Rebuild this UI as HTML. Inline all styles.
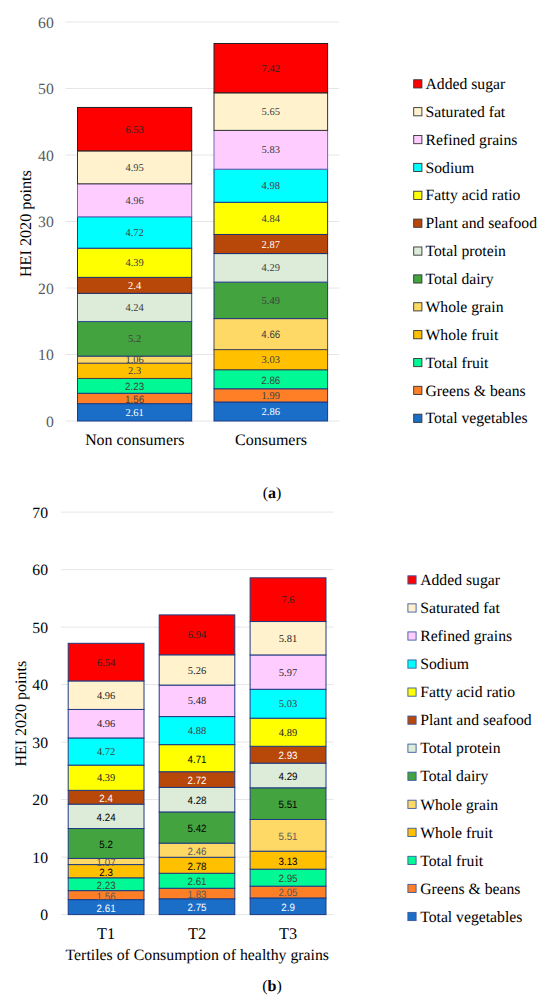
<!DOCTYPE html><html><head><meta charset="utf-8"><style>html,body{margin:0;padding:0;background:#fff;width:550px;height:999px;overflow:hidden}svg{display:block;text-rendering:geometricPrecision}</style></head><body>
<svg width="550" height="999" viewBox="0 0 550 999">
<rect width="550" height="999" fill="#fff"/>
<line x1="65.5" y1="421.00" x2="339.3" y2="421.00" stroke="#E6E6E6" stroke-width="1"/>
<text x="53.8" y="426.60" text-anchor="end" font-family="Liberation Serif" font-size="15.7" fill="#595959">0</text>
<line x1="65.5" y1="354.50" x2="339.3" y2="354.50" stroke="#E6E6E6" stroke-width="1"/>
<text x="53.8" y="360.10" text-anchor="end" font-family="Liberation Serif" font-size="15.7" fill="#595959">10</text>
<line x1="65.5" y1="288.00" x2="339.3" y2="288.00" stroke="#E6E6E6" stroke-width="1"/>
<text x="53.8" y="293.60" text-anchor="end" font-family="Liberation Serif" font-size="15.7" fill="#595959">20</text>
<line x1="65.5" y1="221.50" x2="339.3" y2="221.50" stroke="#E6E6E6" stroke-width="1"/>
<text x="53.8" y="227.10" text-anchor="end" font-family="Liberation Serif" font-size="15.7" fill="#595959">30</text>
<line x1="65.5" y1="155.00" x2="339.3" y2="155.00" stroke="#E6E6E6" stroke-width="1"/>
<text x="53.8" y="160.60" text-anchor="end" font-family="Liberation Serif" font-size="15.7" fill="#595959">40</text>
<line x1="65.5" y1="88.50" x2="339.3" y2="88.50" stroke="#E6E6E6" stroke-width="1"/>
<text x="53.8" y="94.10" text-anchor="end" font-family="Liberation Serif" font-size="15.7" fill="#595959">50</text>
<line x1="65.5" y1="22.00" x2="339.3" y2="22.00" stroke="#E6E6E6" stroke-width="1"/>
<text x="53.8" y="27.60" text-anchor="end" font-family="Liberation Serif" font-size="15.7" fill="#595959">60</text>
<rect x="77.5" y="403.64" width="114.2" height="17.36" fill="#1A6EC8" stroke="#1a3a8a" stroke-width="1"/>
<rect x="77.5" y="393.27" width="114.2" height="10.37" fill="#FF7F27" stroke="#1f3a80" stroke-width="1"/>
<rect x="77.5" y="378.44" width="114.2" height="14.83" fill="#00F994" stroke="#1f3a80" stroke-width="1"/>
<rect x="77.5" y="363.14" width="114.2" height="15.30" fill="#FFC000" stroke="#4a4040" stroke-width="1"/>
<rect x="77.5" y="356.10" width="114.2" height="7.05" fill="#FFD966" stroke="#4a4a5a" stroke-width="1"/>
<rect x="77.5" y="321.52" width="114.2" height="34.58" fill="#43A33F" stroke="#1f3a80" stroke-width="1"/>
<rect x="77.5" y="293.32" width="114.2" height="28.20" fill="#DDEBD9" stroke="#2f4f90" stroke-width="1"/>
<rect x="77.5" y="277.36" width="114.2" height="15.96" fill="#B8470A" stroke="#1f2f6a" stroke-width="1"/>
<rect x="77.5" y="248.17" width="114.2" height="29.19" fill="#FFFF00" stroke="#1f2f6a" stroke-width="1"/>
<rect x="77.5" y="216.78" width="114.2" height="31.39" fill="#00FFFF" stroke="#1f3a80" stroke-width="1"/>
<rect x="77.5" y="183.79" width="114.2" height="32.98" fill="#FFCCFF" stroke="#6a6ab8" stroke-width="1"/>
<rect x="77.5" y="150.88" width="114.2" height="32.92" fill="#FFF2CC" stroke="#333" stroke-width="1"/>
<rect x="77.5" y="107.45" width="114.2" height="43.42" fill="#FF0000" stroke="#222" stroke-width="1"/>
<text x="134.60" y="415.92" text-anchor="middle" font-family="Liberation Serif" font-size="10.5" fill="#fff">2.61</text>
<text transform="translate(134.60,402.86) scale(0.92,1)" text-anchor="middle" font-family="Liberation Sans" font-size="10.6" fill="#404040">1.56</text>
<text transform="translate(134.60,390.25) scale(0.92,1)" text-anchor="middle" font-family="Liberation Sans" font-size="10.6" fill="#404040">2.23</text>
<text x="134.60" y="374.39" text-anchor="middle" font-family="Liberation Serif" font-size="10.5" fill="#404040">2.3</text>
<text x="134.60" y="363.22" text-anchor="middle" font-family="Liberation Serif" font-size="10.5" fill="#404040">1.06</text>
<text x="134.60" y="342.41" text-anchor="middle" font-family="Liberation Serif" font-size="10.5" fill="#404040">5.2</text>
<text x="134.60" y="311.02" text-anchor="middle" font-family="Liberation Serif" font-size="10.5" fill="#404040">4.24</text>
<text x="134.60" y="288.94" text-anchor="middle" font-family="Liberation Serif" font-size="10.5" fill="#fff">2.4</text>
<text x="134.60" y="266.36" text-anchor="middle" font-family="Liberation Serif" font-size="10.5" fill="#404040">4.39</text>
<text x="134.60" y="236.07" text-anchor="middle" font-family="Liberation Serif" font-size="10.5" fill="#404040">4.72</text>
<text x="134.60" y="203.89" text-anchor="middle" font-family="Liberation Serif" font-size="10.5" fill="#404040">4.96</text>
<text x="134.60" y="170.94" text-anchor="middle" font-family="Liberation Serif" font-size="10.5" fill="#404040">4.95</text>
<text x="134.60" y="132.76" text-anchor="middle" font-family="Liberation Serif" font-size="10.5" fill="#262626">6.53</text>
<rect x="214" y="401.98" width="113.6" height="19.02" fill="#1A6EC8" stroke="#1a3a8a" stroke-width="1"/>
<rect x="214" y="388.75" width="113.6" height="13.23" fill="#FF7F27" stroke="#1f3a80" stroke-width="1"/>
<rect x="214" y="369.73" width="113.6" height="19.02" fill="#00F994" stroke="#1f3a80" stroke-width="1"/>
<rect x="214" y="349.58" width="113.6" height="20.15" fill="#FFC000" stroke="#4a4040" stroke-width="1"/>
<rect x="214" y="318.59" width="113.6" height="30.99" fill="#FFD966" stroke="#4a4a5a" stroke-width="1"/>
<rect x="214" y="282.08" width="113.6" height="36.51" fill="#43A33F" stroke="#1f3a80" stroke-width="1"/>
<rect x="214" y="253.55" width="113.6" height="28.53" fill="#DDEBD9" stroke="#2f4f90" stroke-width="1"/>
<rect x="214" y="234.47" width="113.6" height="19.09" fill="#B8470A" stroke="#1f2f6a" stroke-width="1"/>
<rect x="214" y="202.28" width="113.6" height="32.19" fill="#FFFF00" stroke="#1f2f6a" stroke-width="1"/>
<rect x="214" y="169.16" width="113.6" height="33.12" fill="#00FFFF" stroke="#1f3a80" stroke-width="1"/>
<rect x="214" y="130.39" width="113.6" height="38.77" fill="#FFCCFF" stroke="#6a6ab8" stroke-width="1"/>
<rect x="214" y="92.82" width="113.6" height="37.57" fill="#FFF2CC" stroke="#333" stroke-width="1"/>
<rect x="214" y="43.48" width="113.6" height="49.34" fill="#FF0000" stroke="#222" stroke-width="1"/>
<text x="270.80" y="415.09" text-anchor="middle" font-family="Liberation Serif" font-size="10.5" fill="#fff">2.86</text>
<text x="270.80" y="398.96" text-anchor="middle" font-family="Liberation Serif" font-size="10.5" fill="#404040">1.99</text>
<text transform="translate(270.80,383.64) scale(0.92,1)" text-anchor="middle" font-family="Liberation Sans" font-size="10.6" fill="#404040">2.86</text>
<text x="270.80" y="363.25" text-anchor="middle" font-family="Liberation Serif" font-size="10.5" fill="#404040">3.03</text>
<text transform="translate(270.80,338.48) scale(0.92,1)" text-anchor="middle" font-family="Liberation Sans" font-size="10.6" fill="#404040">4.66</text>
<text x="270.80" y="303.94" text-anchor="middle" font-family="Liberation Serif" font-size="10.5" fill="#404040">5.49</text>
<text x="270.80" y="271.42" text-anchor="middle" font-family="Liberation Serif" font-size="10.5" fill="#404040">4.29</text>
<text x="270.80" y="247.61" text-anchor="middle" font-family="Liberation Serif" font-size="10.5" fill="#fff">2.87</text>
<text x="270.80" y="221.97" text-anchor="middle" font-family="Liberation Serif" font-size="10.5" fill="#404040">4.84</text>
<text x="270.80" y="189.32" text-anchor="middle" font-family="Liberation Serif" font-size="10.5" fill="#404040">4.98</text>
<text x="270.80" y="153.38" text-anchor="middle" font-family="Liberation Serif" font-size="10.5" fill="#404040">5.83</text>
<text x="270.80" y="115.21" text-anchor="middle" font-family="Liberation Serif" font-size="10.5" fill="#404040">5.65</text>
<text x="270.80" y="71.75" text-anchor="middle" font-family="Liberation Serif" font-size="10.5" fill="#262626">7.42</text>
<text x="134.8" y="444.7" text-anchor="middle" font-family="Liberation Serif" font-size="15.9" fill="#000">Non consumers</text>
<text x="271" y="444.7" text-anchor="middle" font-family="Liberation Serif" font-size="16" fill="#000">Consumers</text>
<text transform="translate(31,223.6) rotate(-90)" text-anchor="middle" font-family="Liberation Serif" font-size="16.2" fill="#000">HEI 2020 points</text>
<rect x="413.7" y="79.75" width="8.2" height="8.2" fill="#FF0000" stroke="#333" stroke-width="0.9"/>
<text x="425.5" y="88.95" font-family="Liberation Serif" font-size="15.7" fill="#000">Added sugar</text>
<rect x="413.7" y="107.62" width="8.2" height="8.2" fill="#FFF2CC" stroke="#333" stroke-width="0.9"/>
<text x="425.5" y="116.82" font-family="Liberation Serif" font-size="15.7" fill="#000">Saturated fat</text>
<rect x="413.7" y="135.49" width="8.2" height="8.2" fill="#FFCCFF" stroke="#333" stroke-width="0.9"/>
<text x="425.5" y="144.69" font-family="Liberation Serif" font-size="15.7" fill="#000">Refined grains</text>
<rect x="413.7" y="163.36" width="8.2" height="8.2" fill="#00FFFF" stroke="#333" stroke-width="0.9"/>
<text x="425.5" y="172.56" font-family="Liberation Serif" font-size="15.7" fill="#000">Sodium</text>
<rect x="413.7" y="191.23" width="8.2" height="8.2" fill="#FFFF00" stroke="#333" stroke-width="0.9"/>
<text x="425.5" y="200.43" font-family="Liberation Serif" font-size="15.7" fill="#000">Fatty acid ratio</text>
<rect x="413.7" y="219.10" width="8.2" height="8.2" fill="#B8470A" stroke="#333" stroke-width="0.9"/>
<text x="425.5" y="228.30" font-family="Liberation Serif" font-size="15.7" fill="#000">Plant and seafood</text>
<rect x="413.7" y="246.97" width="8.2" height="8.2" fill="#DDEBD9" stroke="#333" stroke-width="0.9"/>
<text x="425.5" y="256.17" font-family="Liberation Serif" font-size="15.7" fill="#000">Total protein</text>
<rect x="413.7" y="274.84" width="8.2" height="8.2" fill="#43A33F" stroke="#333" stroke-width="0.9"/>
<text x="425.5" y="284.04" font-family="Liberation Serif" font-size="15.7" fill="#000">Total dairy</text>
<rect x="413.7" y="302.71" width="8.2" height="8.2" fill="#FFD966" stroke="#333" stroke-width="0.9"/>
<text x="425.5" y="311.91" font-family="Liberation Serif" font-size="15.7" fill="#000">Whole grain</text>
<rect x="413.7" y="330.58" width="8.2" height="8.2" fill="#FFC000" stroke="#333" stroke-width="0.9"/>
<text x="425.5" y="339.78" font-family="Liberation Serif" font-size="15.7" fill="#000">Whole fruit</text>
<rect x="413.7" y="358.45" width="8.2" height="8.2" fill="#00F994" stroke="#333" stroke-width="0.9"/>
<text x="425.5" y="367.65" font-family="Liberation Serif" font-size="15.7" fill="#000">Total fruit</text>
<rect x="413.7" y="386.32" width="8.2" height="8.2" fill="#FF7F27" stroke="#333" stroke-width="0.9"/>
<text x="425.5" y="395.52" font-family="Liberation Serif" font-size="15.7" fill="#000">Greens &amp; beans</text>
<rect x="413.7" y="414.19" width="8.2" height="8.2" fill="#1A6EC8" stroke="#333" stroke-width="0.9"/>
<text x="425.5" y="423.39" font-family="Liberation Serif" font-size="15.7" fill="#000">Total vegetables</text>
<text x="272" y="498.4" text-anchor="middle" font-family="Liberation Serif" font-size="16" fill="#000">(<tspan font-weight="bold">a</tspan>)</text>
<line x1="61" y1="914.60" x2="333.6" y2="914.60" stroke="#E6E6E6" stroke-width="1"/>
<text x="48" y="920.20" text-anchor="end" font-family="Liberation Serif" font-size="15.7" fill="#000">0</text>
<line x1="61" y1="857.10" x2="333.6" y2="857.10" stroke="#E6E6E6" stroke-width="1"/>
<text x="48" y="862.70" text-anchor="end" font-family="Liberation Serif" font-size="15.7" fill="#000">10</text>
<line x1="61" y1="799.60" x2="333.6" y2="799.60" stroke="#E6E6E6" stroke-width="1"/>
<text x="48" y="805.20" text-anchor="end" font-family="Liberation Serif" font-size="15.7" fill="#000">20</text>
<line x1="61" y1="742.10" x2="333.6" y2="742.10" stroke="#E6E6E6" stroke-width="1"/>
<text x="48" y="747.70" text-anchor="end" font-family="Liberation Serif" font-size="15.7" fill="#000">30</text>
<line x1="61" y1="684.60" x2="333.6" y2="684.60" stroke="#E6E6E6" stroke-width="1"/>
<text x="48" y="690.20" text-anchor="end" font-family="Liberation Serif" font-size="15.7" fill="#000">40</text>
<line x1="61" y1="627.10" x2="333.6" y2="627.10" stroke="#E6E6E6" stroke-width="1"/>
<text x="48" y="632.70" text-anchor="end" font-family="Liberation Serif" font-size="15.7" fill="#000">50</text>
<line x1="61" y1="569.60" x2="333.6" y2="569.60" stroke="#E6E6E6" stroke-width="1"/>
<text x="48" y="575.20" text-anchor="end" font-family="Liberation Serif" font-size="15.7" fill="#000">60</text>
<line x1="61" y1="512.10" x2="333.6" y2="512.10" stroke="#E6E6E6" stroke-width="1"/>
<text x="48" y="517.70" text-anchor="end" font-family="Liberation Serif" font-size="15.7" fill="#000">70</text>
<rect x="68.2" y="899.59" width="75.8" height="15.01" fill="#1A6EC8" stroke="#1F3A80" stroke-width="1"/>
<rect x="68.2" y="890.62" width="75.8" height="8.97" fill="#FF7F27" stroke="#1F3A80" stroke-width="1"/>
<rect x="68.2" y="877.80" width="75.8" height="12.82" fill="#00F994" stroke="#1F3A80" stroke-width="1"/>
<rect x="68.2" y="864.58" width="75.8" height="13.23" fill="#FFC000" stroke="#1F3A80" stroke-width="1"/>
<rect x="68.2" y="858.42" width="75.8" height="6.15" fill="#FFD966" stroke="#1F3A80" stroke-width="1"/>
<rect x="68.2" y="828.52" width="75.8" height="29.90" fill="#43A33F" stroke="#1F3A80" stroke-width="1"/>
<rect x="68.2" y="804.14" width="75.8" height="24.38" fill="#DDEBD9" stroke="#1F3A80" stroke-width="1"/>
<rect x="68.2" y="790.34" width="75.8" height="13.80" fill="#B8470A" stroke="#1F3A80" stroke-width="1"/>
<rect x="68.2" y="765.10" width="75.8" height="25.24" fill="#FFFF00" stroke="#1F3A80" stroke-width="1"/>
<rect x="68.2" y="737.96" width="75.8" height="27.14" fill="#00FFFF" stroke="#1F3A80" stroke-width="1"/>
<rect x="68.2" y="709.44" width="75.8" height="28.52" fill="#FFCCFF" stroke="#1F3A80" stroke-width="1"/>
<rect x="68.2" y="680.92" width="75.8" height="28.52" fill="#FFF2CC" stroke="#1F3A80" stroke-width="1"/>
<rect x="68.2" y="643.32" width="75.8" height="37.61" fill="#FF0000" stroke="#1F3A80" stroke-width="1"/>
<text transform="translate(106.10,911.50) scale(0.92,1)" text-anchor="middle" font-family="Liberation Sans" font-size="10.6" fill="#fff">2.61</text>
<text transform="translate(106.10,899.51) scale(0.92,1)" text-anchor="middle" font-family="Liberation Sans" font-size="10.6" fill="#595959">1.56</text>
<text transform="translate(106.10,888.61) scale(0.92,1)" text-anchor="middle" font-family="Liberation Sans" font-size="10.6" fill="#404040">2.23</text>
<text transform="translate(106.10,875.59) scale(0.92,1)" text-anchor="middle" font-family="Liberation Sans" font-size="10.6" fill="#000">2.3</text>
<text transform="translate(106.10,865.90) scale(0.92,1)" text-anchor="middle" font-family="Liberation Sans" font-size="10.6" fill="#595959">1.07</text>
<text transform="translate(106.10,847.87) scale(0.92,1)" text-anchor="middle" font-family="Liberation Sans" font-size="10.6" fill="#000">5.2</text>
<text transform="translate(106.10,820.73) scale(0.92,1)" text-anchor="middle" font-family="Liberation Sans" font-size="10.6" fill="#000">4.24</text>
<text transform="translate(106.10,801.64) scale(0.92,1)" text-anchor="middle" font-family="Liberation Sans" font-size="10.6" fill="#fff">2.4</text>
<text x="106.10" y="781.32" text-anchor="middle" font-family="Liberation Serif" font-size="10.5" fill="#262626">4.39</text>
<text x="106.10" y="755.13" text-anchor="middle" font-family="Liberation Serif" font-size="10.5" fill="#404040">4.72</text>
<text x="106.10" y="727.30" text-anchor="middle" font-family="Liberation Serif" font-size="10.5" fill="#262626">4.96</text>
<text x="106.10" y="698.78" text-anchor="middle" font-family="Liberation Serif" font-size="10.5" fill="#262626">4.96</text>
<text x="106.10" y="665.72" text-anchor="middle" font-family="Liberation Serif" font-size="10.5" fill="#262626">6.54</text>
<rect x="159.2" y="898.79" width="75.6" height="15.81" fill="#1A6EC8" stroke="#1F3A80" stroke-width="1"/>
<rect x="159.2" y="888.26" width="75.6" height="10.52" fill="#FF7F27" stroke="#1F3A80" stroke-width="1"/>
<rect x="159.2" y="873.26" width="75.6" height="15.01" fill="#00F994" stroke="#1F3A80" stroke-width="1"/>
<rect x="159.2" y="857.27" width="75.6" height="15.99" fill="#FFC000" stroke="#1F3A80" stroke-width="1"/>
<rect x="159.2" y="843.13" width="75.6" height="14.14" fill="#FFD966" stroke="#1F3A80" stroke-width="1"/>
<rect x="159.2" y="811.96" width="75.6" height="31.17" fill="#43A33F" stroke="#1F3A80" stroke-width="1"/>
<rect x="159.2" y="787.35" width="75.6" height="24.61" fill="#DDEBD9" stroke="#1F3A80" stroke-width="1"/>
<rect x="159.2" y="771.71" width="75.6" height="15.64" fill="#B8470A" stroke="#1F3A80" stroke-width="1"/>
<rect x="159.2" y="744.63" width="75.6" height="27.08" fill="#FFFF00" stroke="#1F3A80" stroke-width="1"/>
<rect x="159.2" y="716.57" width="75.6" height="28.06" fill="#00FFFF" stroke="#1F3A80" stroke-width="1"/>
<rect x="159.2" y="685.06" width="75.6" height="31.51" fill="#FFCCFF" stroke="#1F3A80" stroke-width="1"/>
<rect x="159.2" y="654.82" width="75.6" height="30.24" fill="#FFF2CC" stroke="#1F3A80" stroke-width="1"/>
<rect x="159.2" y="614.91" width="75.6" height="39.90" fill="#FF0000" stroke="#1F3A80" stroke-width="1"/>
<text transform="translate(197.00,911.09) scale(0.92,1)" text-anchor="middle" font-family="Liberation Sans" font-size="10.6" fill="#fff">2.75</text>
<text transform="translate(197.00,897.93) scale(0.92,1)" text-anchor="middle" font-family="Liberation Sans" font-size="10.6" fill="#595959">1.83</text>
<text transform="translate(197.00,885.16) scale(0.92,1)" text-anchor="middle" font-family="Liberation Sans" font-size="10.6" fill="#404040">2.61</text>
<text transform="translate(197.00,869.67) scale(0.92,1)" text-anchor="middle" font-family="Liberation Sans" font-size="10.6" fill="#000">2.78</text>
<text transform="translate(197.00,854.60) scale(0.92,1)" text-anchor="middle" font-family="Liberation Sans" font-size="10.6" fill="#595959">2.46</text>
<text transform="translate(197.00,831.95) scale(0.92,1)" text-anchor="middle" font-family="Liberation Sans" font-size="10.6" fill="#000">5.42</text>
<text transform="translate(197.00,804.06) scale(0.92,1)" text-anchor="middle" font-family="Liberation Sans" font-size="10.6" fill="#000">4.28</text>
<text transform="translate(197.00,783.93) scale(0.92,1)" text-anchor="middle" font-family="Liberation Sans" font-size="10.6" fill="#fff">2.72</text>
<text transform="translate(197.00,762.57) scale(0.92,1)" text-anchor="middle" font-family="Liberation Sans" font-size="10.6" fill="#000">4.71</text>
<text x="197.00" y="734.20" text-anchor="middle" font-family="Liberation Serif" font-size="10.5" fill="#404040">4.88</text>
<text x="197.00" y="704.41" text-anchor="middle" font-family="Liberation Serif" font-size="10.5" fill="#262626">5.48</text>
<text x="197.00" y="673.54" text-anchor="middle" font-family="Liberation Serif" font-size="10.5" fill="#262626">5.26</text>
<text x="197.00" y="638.46" text-anchor="middle" font-family="Liberation Serif" font-size="10.5" fill="#262626">6.94</text>
<rect x="250.1" y="897.93" width="75.9" height="16.67" fill="#1A6EC8" stroke="#1F3A80" stroke-width="1"/>
<rect x="250.1" y="886.14" width="75.9" height="11.79" fill="#FF7F27" stroke="#1F3A80" stroke-width="1"/>
<rect x="250.1" y="869.18" width="75.9" height="16.96" fill="#00F994" stroke="#1F3A80" stroke-width="1"/>
<rect x="250.1" y="851.18" width="75.9" height="18.00" fill="#FFC000" stroke="#1F3A80" stroke-width="1"/>
<rect x="250.1" y="819.50" width="75.9" height="31.68" fill="#FFD966" stroke="#1F3A80" stroke-width="1"/>
<rect x="250.1" y="787.81" width="75.9" height="31.68" fill="#43A33F" stroke="#1F3A80" stroke-width="1"/>
<rect x="250.1" y="763.14" width="75.9" height="24.67" fill="#DDEBD9" stroke="#1F3A80" stroke-width="1"/>
<rect x="250.1" y="746.30" width="75.9" height="16.85" fill="#B8470A" stroke="#1F3A80" stroke-width="1"/>
<rect x="250.1" y="718.18" width="75.9" height="28.12" fill="#FFFF00" stroke="#1F3A80" stroke-width="1"/>
<rect x="250.1" y="689.26" width="75.9" height="28.92" fill="#00FFFF" stroke="#1F3A80" stroke-width="1"/>
<rect x="250.1" y="654.93" width="75.9" height="34.33" fill="#FFCCFF" stroke="#1F3A80" stroke-width="1"/>
<rect x="250.1" y="621.52" width="75.9" height="33.41" fill="#FFF2CC" stroke="#1F3A80" stroke-width="1"/>
<rect x="250.1" y="577.82" width="75.9" height="43.70" fill="#FF0000" stroke="#1F3A80" stroke-width="1"/>
<text transform="translate(288.05,910.66) scale(0.92,1)" text-anchor="middle" font-family="Liberation Sans" font-size="10.6" fill="#fff">2.9</text>
<text transform="translate(288.05,896.43) scale(0.92,1)" text-anchor="middle" font-family="Liberation Sans" font-size="10.6" fill="#595959">2.05</text>
<text transform="translate(288.05,882.06) scale(0.92,1)" text-anchor="middle" font-family="Liberation Sans" font-size="10.6" fill="#404040">2.95</text>
<text transform="translate(288.05,864.58) scale(0.92,1)" text-anchor="middle" font-family="Liberation Sans" font-size="10.6" fill="#000">3.13</text>
<text transform="translate(288.05,839.74) scale(0.92,1)" text-anchor="middle" font-family="Liberation Sans" font-size="10.6" fill="#595959">5.51</text>
<text transform="translate(288.05,808.05) scale(0.92,1)" text-anchor="middle" font-family="Liberation Sans" font-size="10.6" fill="#000">5.51</text>
<text transform="translate(288.05,779.88) scale(0.92,1)" text-anchor="middle" font-family="Liberation Sans" font-size="10.6" fill="#000">4.29</text>
<text transform="translate(288.05,759.12) scale(0.92,1)" text-anchor="middle" font-family="Liberation Sans" font-size="10.6" fill="#fff">2.93</text>
<text x="288.05" y="735.84" text-anchor="middle" font-family="Liberation Serif" font-size="10.5" fill="#262626">4.89</text>
<text x="288.05" y="707.32" text-anchor="middle" font-family="Liberation Serif" font-size="10.5" fill="#404040">5.03</text>
<text x="288.05" y="675.69" text-anchor="middle" font-family="Liberation Serif" font-size="10.5" fill="#262626">5.97</text>
<text x="288.05" y="641.83" text-anchor="middle" font-family="Liberation Serif" font-size="10.5" fill="#262626">5.81</text>
<text x="288.05" y="603.27" text-anchor="middle" font-family="Liberation Serif" font-size="10.5" fill="#262626">7.6</text>
<text x="106.10" y="938.5" text-anchor="middle" font-family="Liberation Serif" font-size="16.3" fill="#000">T1</text>
<text x="197.00" y="938.5" text-anchor="middle" font-family="Liberation Serif" font-size="16.3" fill="#000">T2</text>
<text x="288.05" y="938.5" text-anchor="middle" font-family="Liberation Serif" font-size="16.3" fill="#000">T3</text>
<text x="197.3" y="960" text-anchor="middle" font-family="Liberation Serif" font-size="15.8" fill="#000">Tertiles of Consumption of healthy grains</text>
<text transform="translate(26,713.7) rotate(-90)" text-anchor="middle" font-family="Liberation Serif" font-size="16" fill="#000">HEI 2020 points</text>
<rect x="407.9" y="575.80" width="8.2" height="8.2" fill="#FF0000" stroke="#3a5aa0" stroke-width="0.9"/>
<text x="420.2" y="585.10" font-family="Liberation Serif" font-size="15.7" fill="#000">Added sugar</text>
<rect x="407.9" y="603.85" width="8.2" height="8.2" fill="#FFF2CC" stroke="#3a5aa0" stroke-width="0.9"/>
<text x="420.2" y="613.15" font-family="Liberation Serif" font-size="15.7" fill="#000">Saturated fat</text>
<rect x="407.9" y="631.90" width="8.2" height="8.2" fill="#FFCCFF" stroke="#3a5aa0" stroke-width="0.9"/>
<text x="420.2" y="641.20" font-family="Liberation Serif" font-size="15.7" fill="#000">Refined grains</text>
<rect x="407.9" y="659.95" width="8.2" height="8.2" fill="#00FFFF" stroke="#3a5aa0" stroke-width="0.9"/>
<text x="420.2" y="669.25" font-family="Liberation Serif" font-size="15.7" fill="#000">Sodium</text>
<rect x="407.9" y="688.00" width="8.2" height="8.2" fill="#FFFF00" stroke="#3a5aa0" stroke-width="0.9"/>
<text x="420.2" y="697.30" font-family="Liberation Serif" font-size="15.7" fill="#000">Fatty acid ratio</text>
<rect x="407.9" y="716.05" width="8.2" height="8.2" fill="#B8470A" stroke="#3a5aa0" stroke-width="0.9"/>
<text x="420.2" y="725.35" font-family="Liberation Serif" font-size="15.7" fill="#000">Plant and seafood</text>
<rect x="407.9" y="744.10" width="8.2" height="8.2" fill="#DDEBD9" stroke="#3a5aa0" stroke-width="0.9"/>
<text x="420.2" y="753.40" font-family="Liberation Serif" font-size="15.7" fill="#000">Total protein</text>
<rect x="407.9" y="772.15" width="8.2" height="8.2" fill="#43A33F" stroke="#3a5aa0" stroke-width="0.9"/>
<text x="420.2" y="781.45" font-family="Liberation Serif" font-size="15.7" fill="#000">Total dairy</text>
<rect x="407.9" y="800.20" width="8.2" height="8.2" fill="#FFD966" stroke="#3a5aa0" stroke-width="0.9"/>
<text x="420.2" y="809.50" font-family="Liberation Serif" font-size="15.7" fill="#000">Whole grain</text>
<rect x="407.9" y="828.25" width="8.2" height="8.2" fill="#FFC000" stroke="#3a5aa0" stroke-width="0.9"/>
<text x="420.2" y="837.55" font-family="Liberation Serif" font-size="15.7" fill="#000">Whole fruit</text>
<rect x="407.9" y="856.30" width="8.2" height="8.2" fill="#00F994" stroke="#3a5aa0" stroke-width="0.9"/>
<text x="420.2" y="865.60" font-family="Liberation Serif" font-size="15.7" fill="#000">Total fruit</text>
<rect x="407.9" y="884.35" width="8.2" height="8.2" fill="#FF7F27" stroke="#3a5aa0" stroke-width="0.9"/>
<text x="420.2" y="893.65" font-family="Liberation Serif" font-size="15.7" fill="#000">Greens &amp; beans</text>
<rect x="407.9" y="912.40" width="8.2" height="8.2" fill="#1A6EC8" stroke="#3a5aa0" stroke-width="0.9"/>
<text x="420.2" y="921.70" font-family="Liberation Serif" font-size="15.7" fill="#000">Total vegetables</text>
<text x="272" y="991.4" text-anchor="middle" font-family="Liberation Serif" font-size="16" fill="#000">(<tspan font-weight="bold">b</tspan>)</text>
</svg></body></html>
